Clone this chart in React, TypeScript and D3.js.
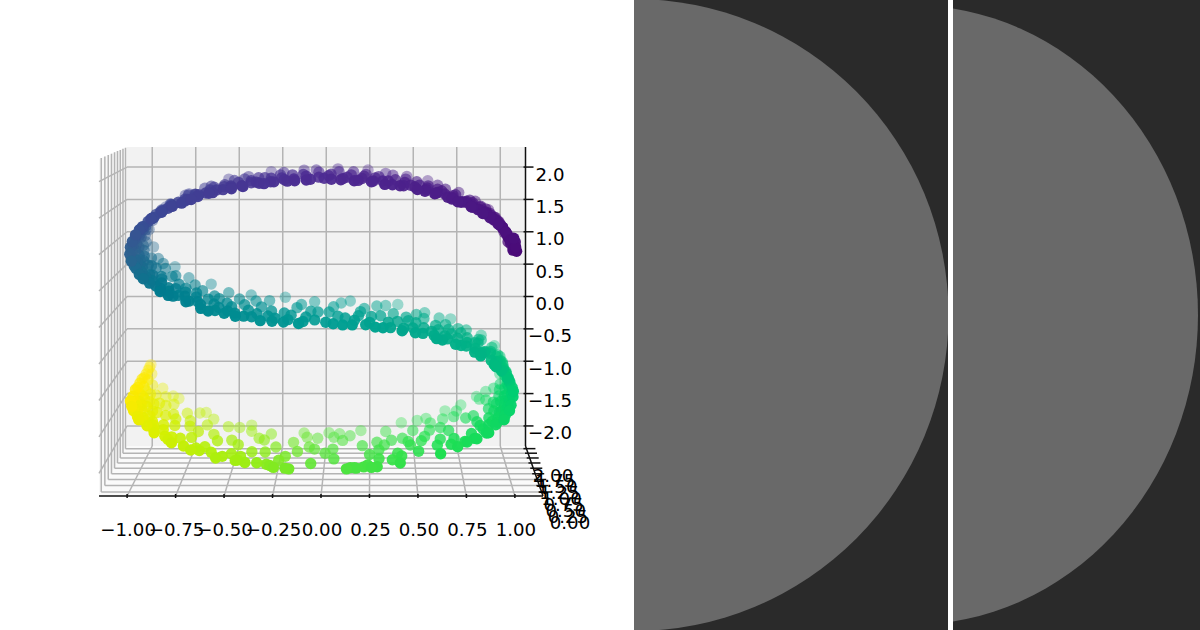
import * as d3 from "d3";
import React, { useEffect, useRef } from "react";

// each point is [x, y (depth), z], one list per stretch of the S
const upperRightArc = [
  [1.015,0,1.02],[1.01,0,1.08],[1.01,.05,1.14],[1,0,1.2],
  [1,.1,1.02],[1,.4,1.06],[.99,.2,1.14],[.99,.7,1.14],[.98,.1,1.2],[.98,1.1,1.2],[.97,.3,1.24],[.97,.8,1.24],[.96,.05,1.28],[.95,.5,1.31],[.95,1.4,1.31],[.93,.2,1.37],[.93,.9,1.37],[.92,1.7,1.39],
  [.9,.1,1.44],[.9,.6,1.44],[.89,1.2,1.46],[.87,.35,1.49],[.85,.1,1.53],[.85,.8,1.53],[.84,1.5,1.54],[.82,.2,1.57],[.8,.55,1.6],[.8,1.1,1.6],[.78,.05,1.63],[.76,.4,1.65],[.75,1.6,1.66],[.73,.15,1.68],
  [.7,.7,1.71],[.68,.1,1.73],[.67,1.3,1.74],[.65,.45,1.76],[.62,.9,1.78],[.6,.2,1.8],[.58,1.9,1.81],[.56,.6,1.83],[.54,.1,1.84],[.51,1.2,1.86],[.49,.35,1.87],[.46,1.75,1.89],[.44,.7,1.9],[.41,.15,1.91],
  [.38,1.5,1.93],[.35,.5,1.94],[.33,.05,1.94],[.3,1.05,1.95],[.27,.3,1.96],[.24,1.95,1.97],[.22,.8,1.98],[.19,.2,1.98],[.16,1.4,1.99],[.13,.55,1.99],[.1,.1,2],[.07,1.8,2],[.04,.9,2],[.01,.3,2],
  [1,.8,1.03],[1,.02,1.05],[.995,1.3,1.1],[.99,.45,1.14],[.985,.05,1.17],[.98,.6,1.2],[.975,.25,1.22],[.97,1.5,1.24],[.96,.5,1.28],[.96,1,1.28],[.95,.15,1.31],[.94,.75,1.34],[.94,.3,1.34],[.92,.05,1.39],
  [.92,.55,1.39],[.91,1.05,1.41],[.9,.3,1.44],[.88,.1,1.47],[.88,.7,1.47],[.86,.45,1.51],[.86,1.1,1.51],[.84,.02,1.54],[.83,.3,1.56],[.81,.85,1.59],[.79,.15,1.61],[.77,.6,1.64],[.74,.3,1.67],[.72,1,1.69],
  [.71,.05,1.7],[.69,.35,1.72],[.66,.15,1.75],[.64,.75,1.77],[.63,1.5,1.78],[.61,.4,1.79],[.59,.05,1.81],[.57,1,1.82],[.55,.3,1.84],[.52,.8,1.85],[.5,.05,1.87],[.47,.5,1.88],[.45,1.3,1.89],[.43,.25,1.9],
  [.39,.9,1.92],[.37,.1,1.93],[.34,1.7,1.94],[.32,.4,1.95],[.28,.75,1.96],[.26,.1,1.97],[.23,1.2,1.97],[.21,.45,1.98],[.17,.05,1.99],[.15,.9,1.99],[.11,.35,1.99],[.08,1.3,2],[.05,.15,2],[.03,.65,2],
];
const upperLeftArc = [
  [-.03,1.2,2],[-.06,.15,2],[-.09,.6,2],[-.12,1.7,1.99],[-.14,.05,1.99],[-.17,.9,1.99],[-.2,.3,1.98],[-.23,1.5,1.97],[-.25,.1,1.97],[-.28,.7,1.96],[-.31,1.9,1.95],[-.33,.2,1.94],[-.36,1.1,1.93],[-.38,.45,1.92],
  [-.41,.05,1.91],[-.43,1.6,1.9],[-.46,.8,1.89],[-.48,.25,1.88],[-.5,1.3,1.87],[-.53,.6,1.85],[-.55,1.85,1.84],[-.57,.1,1.82],[-.6,1,1.8],[-.62,.4,1.78],[-.65,.15,1.76],[-.67,1.45,1.74],[-.69,.75,1.72],[-.71,.3,1.7],
  [-.73,.05,1.68],[-.75,1.2,1.66],[-.77,.5,1.64],[-.79,1.7,1.61],[-.81,.2,1.59],[-.83,.9,1.56],[-.85,.4,1.53],[-.86,1.4,1.51],[-.88,.1,1.47],[-.9,.7,1.44],[-.91,1.9,1.41],[-.92,.3,1.39],[-.94,1.1,1.34],[-.95,.05,1.31],
  [-.96,.55,1.28],[-.97,1.6,1.24],[-.98,.2,1.2],[-.98,.85,1.2],[-.99,.35,1.14],[-.99,1.3,1.14],[-1,.1,1.06],[-1,.6,1.03],[-1,1.8,1.08],
  [-.02,.45,2],[-.05,1.6,2],[-.08,.05,2],[-.11,.85,2],[-.15,.3,1.99],[-.18,.1,1.98],[-.22,.55,1.98],[-.24,1.1,1.97],[-.27,.2,1.96],[-.3,.05,1.95],[-.32,.9,1.95],[-.35,.35,1.94],[-.39,.75,1.92],[-.42,.15,1.91],
  [-.44,1.2,1.9],[-.47,.05,1.88],[-.49,.5,1.87],[-.52,.2,1.85],[-.54,.95,1.84],[-.56,.35,1.83],[-.59,.1,1.81],[-.61,.7,1.79],[-.63,1.35,1.78],[-.66,.45,1.75],[-.68,.05,1.73],[-.7,.9,1.71],[-.72,.2,1.69],[-.74,.6,1.67],
  [-.76,1.5,1.65],[-.78,.1,1.63],[-.8,.35,1.6],[-.82,.75,1.57],[-.84,.15,1.54],[-.87,.55,1.49],[-.89,.05,1.46],[-.89,1.05,1.46],[-.91,.45,1.41],[-.93,.8,1.37],[-.94,.15,1.34],[-.95,1.35,1.31],[-.96,.3,1.28],
  [-.97,.05,1.24],[-.97,.95,1.24],[-.98,.5,1.2],[-.99,.1,1.14],[-.99,.7,1.14],[-1,.3,1.05],[-1,1,1.07],[-1,1.4,1.04],
];
const middleLeftArc = [
  [-1,.05,.97],[-1,.8,.95],[-1,1.5,.93],[-.99,.3,.86],[-.99,1.1,.86],[-.98,.1,.8],[-.98,.6,.8],[-.98,1.9,.8],[-.97,.4,.76],[-.96,1.3,.72],[-.95,.05,.69],[-.95,.8,.69],[-.94,1.65,.66],[-.93,.25,.63],
  [-.92,1.05,.61],[-.91,.55,.59],[-.9,.1,.56],[-.89,1.45,.54],[-.87,.7,.51],[-.86,1.95,.49],[-.85,.2,.47],[-.84,1.2,.46],[-.82,.45,.43],[-.8,.05,.4],[-.79,.95,.39],[-.77,1.7,.36],[-.76,.3,.35],[-.74,.65,.33],
  [-.72,1.35,.31],[-.71,.1,.3],[-.69,.85,.28],[-.66,.35,.25],[-.65,1.85,.24],[-.63,.05,.22],[-.6,1.05,.2],[-.58,.5,.19],[-.56,.15,.17],[-.54,1.55,.16],[-.52,.75,.15],[-.5,.3,.13],[-.47,1.25,.12],[-.45,.05,.11],
  [-.42,1.75,.09],[-.4,.6,.08],[-.37,.2,.07],[-.34,.95,.06],[-.31,1.5,.05],[-.29,.4,.04],[-.26,.1,.03],[-.23,1.9,.03],[-.21,.7,.02],[-.18,.25,.02],[-.15,1.15,.01],[-.12,.05,.01],[-.09,.5,.005],[-.06,1.65,.005],[-.03,.85,.005],
  [-1,.2,.98],[-1,.5,.95],[-1,1.2,.92],[-.99,.65,.86],[-.99,.02,.88],[-.98,.35,.8],[-.98,.95,.8],[-.97,.1,.76],[-.97,.75,.76],[-.96,.45,.72],[-.95,.25,.69],[-.94,.95,.66],[-.93,.05,.63],[-.92,.45,.61],
  [-.91,1.6,.59],[-.9,.3,.56],[-.88,.85,.52],[-.87,.15,.51],[-.86,.5,.49],[-.84,.02,.46],[-.83,1.4,.44],[-.81,.3,.41],[-.79,.6,.39],[-.78,.15,.37],[-.75,.9,.34],[-.73,.4,.32],[-.7,.2,.29],[-.68,.6,.27],
  [-.67,1.15,.26],[-.64,.25,.23],[-.62,.7,.22],[-.59,.02,.19],[-.57,.95,.18],[-.55,.4,.16],[-.51,.1,.14],[-.49,.6,.13],[-.46,.25,.11],[-.43,.9,.1],[-.41,.15,.09],[-.38,1.3,.08],[-.35,.45,.06],[-.32,.05,.05],
  [-.28,.75,.04],[-.25,.3,.03],[-.2,.1,.02],[-.17,.55,.02],[-.13,1.4,.01],[-.1,.2,.005],[-.07,.9,.005],[-.04,.3,.005],
];
const middleRightArc = [
  [.02,.2,-.005],[.05,1.3,-.005],[.08,.6,-.005],[.11,.05,-.01],[.14,1.8,-.01],[.17,.35,-.01],[.2,1,-.02],[.23,.15,-.03],[.26,.7,-.03],[.29,1.55,-.04],[.32,.05,-.05],[.35,.45,-.06],[.38,1.15,-.08],[.41,1.95,-.09],
  [.43,.25,-.1],[.46,.8,-.11],[.49,.1,-.13],[.51,1.4,-.14],[.54,.55,-.16],[.56,1.7,-.17],[.59,.2,-.19],[.61,.95,-.21],[.63,.05,-.22],[.65,.4,-.24],[.67,1.25,-.26],[.69,.7,-.28],[.71,1.9,-.3],[.73,.15,-.32],
  [.75,1.05,-.34],[.77,.5,-.36],[.79,1.5,-.39],[.8,.1,-.4],[.82,.8,-.43],[.84,.3,-.46],[.85,1.2,-.47],[.87,.6,-.51],[.88,1.75,-.52],[.9,.05,-.56],[.91,.95,-.59],[.92,.4,-.61],[.93,1.4,-.63],[.95,.2,-.69],
  [.95,.75,-.69],[.96,1.95,-.72],[.97,.1,-.76],[.97,1.1,-.76],[.98,.5,-.8],[.98,1.55,-.8],[.99,.25,-.86],[.99,.85,-.86],[1,.05,-.93],[1,.6,-.95],[1,1.3,-.97],
  [.03,.9,-.005],[.06,.1,-.005],[.09,1.6,-.005],[.12,.5,-.01],[.16,.05,-.01],[.19,.7,-.02],[.22,1.3,-.03],[.25,.3,-.03],[.28,.05,-.04],[.31,.85,-.05],[.34,1.7,-.06],[.36,.15,-.07],[.4,.6,-.08],[.42,.05,-.09],
  [.45,1.05,-.11],[.48,.35,-.12],[.5,.75,-.13],[.53,.15,-.15],[.55,1.25,-.17],[.58,.45,-.19],[.6,.05,-.2],[.62,.7,-.22],[.64,1.6,-.23],[.66,.25,-.25],[.68,.95,-.27],[.7,.1,-.29],[.72,.55,-.31],[.74,1.3,-.33],
  [.76,.25,-.35],[.78,.85,-.37],[.81,.35,-.41],[.83,.05,-.44],[.84,.9,-.46],[.86,.45,-.49],[.87,1.35,-.51],[.89,.2,-.54],[.9,.7,-.56],[.91,.05,-.59],[.93,.5,-.63],[.94,.95,-.66],[.94,.1,-.66],[.96,.4,-.72],
  [.96,1.3,-.72],[.97,.65,-.76],[.98,.15,-.8],[.98,1.05,-.8],[.99,.5,-.86],[.99,1.45,-.86],[1,.2,-.92],[1,.85,-.95],
];
const lowerRightArc = [
  [1,.1,-1.02],[1,.7,-1.04],[1,1.6,-1.05],[.99,.35,-1.14],[.99,1,-1.14],[.99,1.9,-1.14],[.98,.05,-1.2],[.98,.55,-1.2],[.97,1.3,-1.24],[.97,.25,-1.24],[.96,.8,-1.28],[.95,0,-1.31],[.95,1.7,-1.31],[.94,.45,-1.34],
  [.93,1.1,-1.37],[.92,.15,-1.39],[.91,1.9,-1.41],[.9,1,-1.44],[.9,.35,-1.44],[.89,.6,-1.46],[.87,0,-1.49],[.86,2,-1.51],[.85,.3,-1.53],[.83,.75,-1.56],[.8,.1,-1.6],[.78,1.2,-1.63],[.77,2,-1.64],[.76,.1,-1.65],
  [.72,1.5,-1.69],[.68,.25,-1.73],[.68,.9,-1.73],[.68,2,-1.73],[.64,1.2,-1.77],[.62,0,-1.78],[.61,.4,-1.79],[.59,1.6,-1.81],[.58,1.2,-1.81],[.57,1.9,-1.82],[.53,.8,-1.85],[.52,1.9,-1.85],[.51,.35,-1.86],[.47,.7,-1.88],
  [.43,1.1,-1.9],[.43,1.95,-1.9],[.42,.3,-1.91],[.41,0,-1.91],[.37,.2,-1.93],[.37,1.1,-1.93],[.3,.7,-1.95],[.29,1.1,-1.96],[.3,.3,-1.95],[.29,0,-1.96],[.26,0,-1.97],[.22,.05,-1.98],[.18,0,-1.98],[.15,.05,-1.99],
  [.13,0,-1.99],[.2,1.8,-1.98],[.14,1.55,-1.99],[.1,1.3,-1.99],[.08,1.7,-2],[.05,1.5,-2],[.05,.9,-2],[.06,.45,-2],
  [1,.3,-1.03],[1,.95,-1.06],[1,1.3,-1.03],[.99,.1,-1.14],[.99,.65,-1.14],[.98,.8,-1.2],[.98,.25,-1.2],[.98,1.5,-1.2],[.97,.5,-1.24],[.96,.1,-1.28],[.96,1.1,-1.28],[.95,.4,-1.31],[.94,.9,-1.34],[.93,.3,-1.37],
  [.92,.7,-1.39],[.91,.1,-1.41],[.9,1.5,-1.44],[.88,.3,-1.47],[.87,1.75,-1.49],[.86,.05,-1.51],[.84,.5,-1.54],[.82,1.1,-1.57],[.81,.05,-1.59],[.79,.35,-1.61],[.75,.15,-1.66],[.74,1.75,-1.67],[.71,.05,-1.7],[.7,.45,-1.71],
  [.66,1.6,-1.75],[.63,.65,-1.78],[.55,.95,-1.83],[.49,1.4,-1.87],[.46,.9,-1.89],[.4,.45,-1.92],[.34,1.6,-1.94],[.33,.9,-1.94],[.24,.1,-1.97],[.17,.05,-1.99],[.25,.55,-1.97],[.21,1,-1.98],[.02,1.75,-2],[.01,.7,-2],
];
const lowerLeftArc = [
  [-.04,1.45,-2],[-.08,1,-2],[-.1,1.5,-2],[-.17,1.2,-1.99],[-.17,0,-1.99],[-.2,.5,-1.98],[-.25,0,-1.97],[-.26,.9,-1.97],[-.29,.1,-1.96],[-.3,1.5,-1.95],[-.31,.6,-1.95],[-.36,1.2,-1.93],[-.4,.05,-1.92],[-.42,1.85,-1.91],
  [-.44,.1,-1.9],[-.46,.75,-1.89],[-.48,1.6,-1.88],[-.48,.3,-1.88],[-.55,0,-1.84],[-.57,.7,-1.82],[-.63,1.7,-1.78],[-.64,.1,-1.77],[-.68,0,-1.73],[-.68,.85,-1.73],[-.68,1.9,-1.73],[-.72,.05,-1.69],[-.74,1.2,-1.67],[-.78,0,-1.63],
  [-.79,.2,-1.61],[-.8,.7,-1.6],[-.82,.1,-1.57],[-.83,1.15,-1.56],[-.84,2,-1.54],[-.85,.5,-1.53],[-.87,0,-1.49],[-.87,1.95,-1.49],[-.88,1.3,-1.47],[-.89,.25,-1.46],[-.9,.8,-1.44],[-.9,1.7,-1.44],[-.91,.05,-1.41],[-.92,.45,-1.39],
  [-.93,1,-1.37],[-.93,1.95,-1.37],[-.94,.2,-1.34],[-.95,0,-1.31],[-.95,.65,-1.31],[-.96,.4,-1.28],[-.96,1.2,-1.28],[-.97,.2,-1.24],[-.97,.8,-1.24],[-.97,1.6,-1.24],[-.98,.05,-1.2],[-.98,.5,-1.2],[-.98,1.1,-1.2],
  [-.99,.3,-1.14],[-.99,.7,-1.14],[-.99,1.5,-1.14],[-.99,1.9,-1.14],[-1,.1,-1.08],[-1,.5,-1.03],[-1,.9,-1.04],[-1,1.3,-1.06],[-1,1.7,-1.04],[-1,2,-1.02],
  [-.05,.9,-2],[-.06,.25,-2],[-.12,1.7,-1.99],[-.14,.75,-1.99],[-.19,0,-1.98],[-.23,.3,-1.97],[-.27,.05,-1.96],[-.33,1.15,-1.94],[-.34,.1,-1.94],[-.38,.55,-1.93],[-.41,1.5,-1.91],[-.43,.25,-1.9],[-.45,.05,-1.89],[-.5,.9,-1.87],
  [-.52,.1,-1.85],[-.54,1.5,-1.84],[-.58,.15,-1.81],[-.6,.95,-1.8],[-.62,.3,-1.78],[-.65,1.3,-1.76],[-.66,.15,-1.75],[-.7,.5,-1.71],[-.71,1.75,-1.7],[-.73,.95,-1.68],[-.75,.3,-1.66],[-.77,1.5,-1.64],[-.8,.05,-1.6],[-.81,1,-1.59],
  [-.84,.3,-1.54],[-.85,1.6,-1.53],[-.86,.9,-1.51],[-.88,.1,-1.47],[-.9,.35,-1.44],[-.91,1.2,-1.41],[-.92,.7,-1.39],[-.94,.1,-1.34],[-.94,1.4,-1.34],[-.95,.9,-1.31],[-.96,.05,-1.28],[-.97,.5,-1.24],[-.98,.8,-1.2],[-.98,.3,-1.2],
  [-.99,.05,-1.14],[-.99,1.1,-1.14],[-1,.3,-1.07],[-1,.7,-1.05],[-1,1.1,-1.03],[-1,1.5,-1.05],[-1,1.85,-1.03],
];

const xTicks = [-1, -0.75, -0.5, -0.25, 0, 0.25, 0.5, 0.75, 1];
const yTicks = [0, 0.25, 0.5, 0.75, 1, 1.25, 1.5, 1.75, 2];
const zTicks = [-2, -1.5, -1, -0.5, 0, 0.5, 1, 1.5, 2];

// colour along the curve, as it looks in the picture
const colorStops = [-4.71, -3.14, -2, -1.57, -1, 0, 1, 1.57, 2.5, 3.14, 3.55, 4.2, 4.71];
const colorValues = ["#4a0a78", "#4d2a92", "#3a4a95", "#30608f", "#007a8e", "#009c94", "#00b484", "#00d070", "#20e050", "#58e43c", "#9cee10", "#dcf000", "#ffe900"];

const FONT = "'DejaVu Sans', sans-serif";

// position along the curve, gives the colour
function curveParam(x: number, z: number) {
  if (z >= 0) {
    const a = Math.atan2(x, 1 - z);
    return a > 0 ? a - 2 * Math.PI : a;
  }
  const a = Math.atan2(x, 1 + z);
  return a < 0 ? a + 2 * Math.PI : a;
}

export default function App() {
  const svgRef = useRef<SVGSVGElement | null>(null);

  useEffect(() => {
    const svg = d3.select(svgRef.current);
    svg.selectAll("*").remove();

    // box corners of the 3d plot as they land on screen: front and back face
    const left = d3.scaleLinear().domain([0, 1]).range([99, 127]);
    const right = d3.scaleLinear().domain([0, 1]).range([543, 525.5]);
    const top = d3.scaleLinear().domain([0, 1]).range([159, 147]);
    const bottom = d3.scaleLinear().domain([0, 1]).range([496, 446]);

    // depth -> 0 (front) .. 1 (back), foreshortened
    const yLim = d3.scaleLinear().domain([-0.15, 2.15]).range([0, 1]);
    const depth = (y: number) => {
      const p = yLim(y);
      return (p * 1.25) / (1 + 0.25 * p);
    };
    const xLim = d3.scaleLinear().domain([-1.145, 1.145]).range([0, 1]);
    const zLim = d3.scaleLinear().domain([-2.31, 2.31]).range([0, 1]);

    const project = (x: number, y: number, z: number) => {
      const f = depth(y);
      const sx = d3.scaleLinear().domain([0, 1]).range([left(f), right(f)]);
      const sz = d3.scaleLinear().domain([0, 1]).range([bottom(f), top(f)]);
      return [sx(xLim(x)), sz(zLim(z))];
    };

    const color = d3.scaleLinear<string>().domain(colorStops).range(colorValues).clamp(true);
    const alpha = d3.scaleLinear().domain([2, 0]).range([0.35, 1]);

    // panes
    const line = d3.line();
    const pane = (pts: [number, number][], fill: string) =>
      svg.append("path").attr("d", line(pts) + "Z").attr("fill", fill);
    pane([[left(1), top(1)], [right(1), top(1)], [right(1), bottom(1)], [left(1), bottom(1)]], "#f2f2f2");
    pane([[left(0), top(0)], [left(1), top(1)], [left(1), bottom(1)], [left(0), bottom(0)]], "#f8f8f8");
    pane([[left(1), bottom(1)], [right(1), bottom(1)], [right(0), bottom(0)], [left(0), bottom(0)]], "#fafafa");

    // grid
    const grid = svg.append("g").attr("stroke", "#b4b4b4").attr("stroke-width", 1.5).attr("fill", "none");
    const seg = (a: number[], b: number[], g = grid) =>
      g.append("line").attr("x1", a[0]).attr("y1", a[1]).attr("x2", b[0]).attr("y2", b[1]);
    const yBack = 2.15, yFront = -0.15, xMin = -1.145, xMax = 1.145, zMin = -2.31, zMax = 2.31;
    xTicks.forEach((x) => {
      seg(project(x, yBack, zMax), project(x, yBack, zMin));
      seg(project(x, yBack, zMin), project(x, yFront, zMin));
    });
    zTicks.forEach((z) => {
      seg(project(xMin, yBack, z), project(xMax, yBack, z));
      seg(project(xMin, yBack, z), project(xMin, yFront, z));
    });
    yTicks.forEach((y) => {
      seg(project(xMin, y, zMax), project(xMin, y, zMin));
      seg(project(xMin, y, zMin), project(xMax, y, zMin));
    });

    // axis lines and ticks
    const axes = svg.append("g").attr("stroke", "#111").attr("stroke-width", 1.5);
    seg(project(xMin, yFront, zMin), project(xMax, yFront, zMin), axes);
    seg(project(xMax, yBack, zMin), project(xMax, yFront, zMin), axes);
    seg(project(xMax, yBack, zMax), project(xMax, yBack, zMin), axes);
    xTicks.forEach((x) => {
      const [px, py] = project(x, yFront, zMin);
      seg([px, py - 2], [px, py + 2], axes);
    });
    zTicks.forEach((z) => {
      const [px, py] = project(xMax, yBack, z);
      seg([px - 2, py], [px + 8, py], axes);
    });
    yTicks.forEach((y) => {
      const [px, py] = project(xMax, y, zMin);
      seg([px - 3, py], [px + 9, py], axes);
    });

    // points, far ones first
    const points = [...upperRightArc, ...upperLeftArc, ...middleLeftArc, ...middleRightArc, ...lowerRightArc, ...lowerLeftArc]
      .slice()
      .sort((a, b) => b[1] - a[1]);
    svg.append("g")
      .selectAll("circle")
      .data(points)
      .join("circle")
      .attr("cx", (d) => project(d[0], d[1], d[2])[0])
      .attr("cy", (d) => project(d[0], d[1], d[2])[1])
      .attr("r", 5.7)
      .attr("fill", (d) => color(curveParam(d[0], d[2])))
      .attr("fill-opacity", (d) => alpha(d[1]));

    // tick labels
    const labels = svg.append("g").attr("font-family", FONT).attr("font-size", 18.2).attr("fill", "#000").attr("text-anchor", "middle");
    xTicks.forEach((x) => {
      labels.append("text").attr("x", project(x, yFront, zMin)[0] + 1).attr("y", 536).text(d3.format(".2f")(x));
    });
    zTicks.forEach((z) => {
      labels.append("text").attr("x", 550).attr("y", project(xMax, yBack, z)[1] + 13.5).text(d3.format(".1f")(z));
    });
    const labelX = d3.scaleLinear().domain([0, 2]).range([570, 553]);
    const labelY = d3.scaleLinear().domain([0, 2]).range([528.5, 481.5]);
    yTicks.forEach((y) => {
      labels.append("text").attr("x", labelX(y)).attr("y", labelY(y)).text(d3.format(".2f")(y));
    });

    // the two dark panels on the right
    svg.append("rect").attr("x", 634).attr("y", 0).attr("width", 314).attr("height", 630).attr("fill", "#2a2a2a");
    svg.append("rect").attr("x", 953).attr("y", 0).attr("width", 247).attr("height", 630).attr("fill", "#2a2a2a");
    const clipA = svg.append("clipPath").attr("id", "panel-a");
    clipA.append("rect").attr("x", 634).attr("y", 0).attr("width", 314).attr("height", 630);
    const clipB = svg.append("clipPath").attr("id", "panel-b");
    clipB.append("rect").attr("x", 953).attr("y", 0).attr("width", 247).attr("height", 630);
    svg.append("ellipse").attr("cx", 634).attr("cy", 315).attr("rx", 314.5).attr("ry", 316)
      .attr("fill", "#696969").attr("clip-path", "url(#panel-a)");
    svg.append("ellipse").attr("cx", 910).attr("cy", 315).attr("rx", 288).attr("ry", 310)
      .attr("fill", "#696969").attr("clip-path", "url(#panel-b)");
  }, []);

  return (
    <svg
      ref={svgRef}
      width={1200}
      height={630}
      viewBox="0 0 1200 630"
      style={{ position: "absolute", left: 0, top: 0, background: "#fff" }}
    />
  );
}
